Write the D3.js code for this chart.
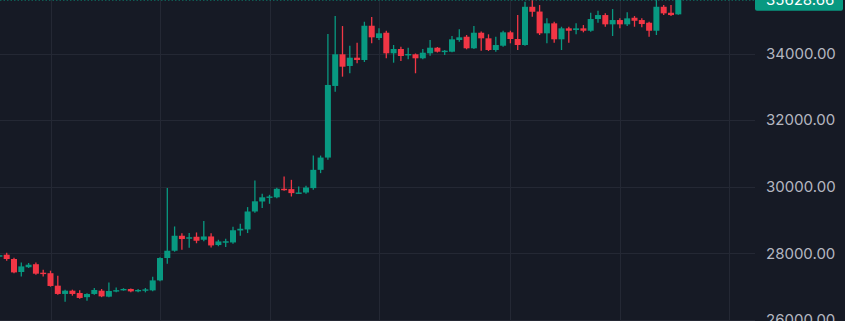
<!DOCTYPE html>
<html lang="en">
<head>
  <meta charset="UTF-8">
  <title>Candles</title>
  <script src="https://d3js.org/d3.v7.min.js"></script>
  <style>
    html, body {
      margin: 0;
      padding: 0;
      background: #161a25;
      overflow: hidden;
    }
    svg { display: block; }
  </style>
</head>
<body>
  <div id="chart"></div>
  <script>
    // OHLC, one entry per candle
    const opens = [
      27895, 27955, 27826, 27436, 27580, 27670, 27415, 27400, 27025, 26776,
      26875, 26806, 26680, 26776, 26875, 26695, 26866, 26884, 26926, 26875,
      26884, 26884, 27184, 27856, 28075, 28525, 28435, 28495, 28405, 28504,
      28246, 28315, 28324, 28684, 28714, 29254, 29554, 29674, 29680, 29935,
      29926, 29794, 29824, 29956, 30505, 30874, 33025, 33976, 33625, 33874,
      33805, 34834, 34465, 34624, 34006, 34135, 33955, 33976, 33856, 34006,
      34174, 34054, 34054, 34405, 34504, 34156, 34624, 34456, 34105, 34234,
      34636, 34435, 34255, 35404, 35260, 34606, 34906, 34426, 34756, 34705,
      34756, 34684, 35035, 35155, 34876, 35005, 34876, 35074, 35005, 34924,
      34684, 35404, 35224, 35176
    ];
    const highs = [
      27985, 28015, 27865, 27724, 27706, 27724, 27505, 27475, 27325, 26905,
      26905, 26890, 26800, 26956, 26926, 27124, 26974, 26950, 26944, 26926,
      26956, 27295, 27880, 29956, 28804, 28600, 28606, 28624, 28966, 28600,
      28405, 28435, 28795, 28885, 29386, 30184, 29785, 29755, 29965, 30304,
      30205, 30004, 30025, 30934, 30934, 34585, 35125, 34825, 34234, 34324,
      34954, 35095, 34756, 34684, 34255, 34204, 34174, 34000, 34135, 34405,
      34195, 34105, 34525, 34726, 34555, 34825, 34660, 34576, 34504, 34684,
      34684, 35155, 35554, 35605, 35455, 35056, 34954, 34804, 34804, 34906,
      34855, 35224, 35284, 35206, 35335, 35056, 35236, 35125, 35056, 34954,
      35605, 35455, 35455, 35700
    ];
    const lows = [
      27865, 27775, 27400, 27304, 27556, 27355, 27304, 26995, 26755, 26545,
      26725, 26635, 26575, 26755, 26680, 26680, 26824, 26875, 26830, 26824,
      26824, 26860, 27160, 27685, 28045, 28105, 28165, 28300, 28360, 28174,
      28210, 28186, 28285, 28525, 28606, 29215, 29356, 29485, 29650, 29875,
      29704, 29785, 29785, 29905, 30406, 30805, 32854, 33304, 33406, 33706,
      33745, 34306, 34405, 33856, 33724, 33775, 33826, 33406, 33826, 33934,
      34030, 33955, 34036, 34354, 34126, 34135, 34084, 34075, 34054, 34204,
      34306, 34105, 34234, 35104, 34555, 34306, 34324, 34105, 34324, 34576,
      34636, 34654, 34924, 34804, 34525, 34756, 34825, 34804, 34786, 34504,
      34555, 35155, 35125, 35161
    ];
    const closes = [
      27940, 27826, 27424, 27604, 27655, 27385, 27376, 27016, 26776, 26875,
      26776, 26656, 26776, 26896, 26704, 26866, 26890, 26926, 26854, 26896,
      26914, 27184, 27856, 28075, 28525, 28426, 28480, 28375, 28504, 28234,
      28354, 28360, 28690, 28735, 29254, 29560, 29680, 29704, 29935, 29905,
      29806, 29824, 29974, 30505, 30874, 33055, 33976, 33604, 33874, 33805,
      34834, 34486, 34606, 34006, 34135, 33925, 33985, 33856, 34024, 34174,
      34054, 34084, 34426, 34486, 34156, 34624, 34456, 34105, 34255, 34636,
      34435, 34255, 35404, 35254, 34606, 34906, 34426, 34756, 34684, 34756,
      34684, 35035, 35155, 34876, 35005, 34876, 35056, 34984, 34885, 34684,
      35404, 35206, 35155, 35628.66
    ];

    const priceTicks = [26000, 28000, 30000, 32000, 34000];
    const timeTicks = [7, 22, 37, 52, 70, 85, 100]; // candle slots with a vertical grid line
    const lastPrice = closes[closes.length - 1];

    const width = 845;
    const height = 321;
    const plotRight = 755;

    const UP = '#089981';
    const DOWN = '#f23645';

    const candles = opens.map((o, i) => ({
      i: i, o: o, h: highs[i], l: lows[i], c: closes[i]
    }));

    const x = d3.scaleLinear().domain([0, 100]).range([-0.6, 729.4]);
    const y = d3.scaleLinear().domain([26000, 34000]).range([319.8, 53.5]);

    const svg = d3.select('#chart')
      .append('svg')
      .attr('width', width)
      .attr('height', height);

    svg.append('rect')
      .attr('width', width)
      .attr('height', height)
      .attr('fill', '#161a25');

    // grid
    svg.append('g')
      .selectAll('line')
      .data(priceTicks)
      .enter()
      .append('line')
      .attr('x1', 0)
      .attr('x2', plotRight)
      .attr('y1', d => Math.round(y(d)) + 0.5)
      .attr('y2', d => Math.round(y(d)) + 0.5)
      .attr('stroke', '#242834')
      .attr('stroke-width', 1);

    svg.append('g')
      .selectAll('line')
      .data(timeTicks)
      .enter()
      .append('line')
      .attr('x1', d => Math.round(x(d)) + 0.5)
      .attr('x2', d => Math.round(x(d)) + 0.5)
      .attr('y1', 0)
      .attr('y2', height)
      .attr('stroke', '#242834')
      .attr('stroke-width', 1);

    // candles
    const bodyW = 6;
    const g = svg.append('g');

    g.selectAll('line.wick')
      .data(candles)
      .enter()
      .append('line')
      .attr('class', 'wick')
      .attr('x1', d => x(d.i))
      .attr('x2', d => x(d.i))
      .attr('y1', d => y(d.h))
      .attr('y2', d => y(d.l))
      .attr('stroke', d => d.c >= d.o ? UP : DOWN)
      .attr('stroke-width', 1.3);

    g.selectAll('rect.body')
      .data(candles)
      .enter()
      .append('rect')
      .attr('class', 'body')
      .attr('x', d => x(d.i) - bodyW / 2)
      .attr('width', bodyW)
      .attr('y', d => y(Math.max(d.o, d.c)))
      .attr('height', d => Math.max(1.4, Math.abs(y(d.o) - y(d.c))))
      .attr('fill', d => d.c >= d.o ? UP : DOWN);

    // last price line
    svg.append('line')
      .attr('x1', 0)
      .attr('x2', plotRight)
      .attr('y1', y(lastPrice))
      .attr('y2', y(lastPrice))
      .attr('stroke', UP)
      .attr('stroke-width', 2.5)
      .attr('stroke-dasharray', '1.5 2');

    // right price axis
    const axis = svg.append('g')
      .attr('font-family', 'Inter, "Noto Sans", sans-serif')
      .attr('font-size', 15);

    axis.selectAll('text')
      .data(priceTicks)
      .enter()
      .append('text')
      .attr('x', 766)
      .attr('y', d => y(d))
      .attr('dy', '0.36em')
      .attr('fill', '#b4b7c0')
      .text(d => d3.format('.2f')(d));

    svg.append('rect')
      .attr('x', plotRight)
      .attr('y', y(lastPrice) - 11.5)
      .attr('width', 88)
      .attr('height', 23)
      .attr('rx', 2)
      .attr('fill', UP);

    svg.append('text')
      .attr('x', 766)
      .attr('y', y(lastPrice))
      .attr('dy', '0.36em')
      .attr('font-family', 'Inter, "Noto Sans", sans-serif')
      .attr('font-size', 15)
      .attr('fill', '#ffffff')
      .text(d3.format('.2f')(lastPrice));
  </script>
</body>
</html>
